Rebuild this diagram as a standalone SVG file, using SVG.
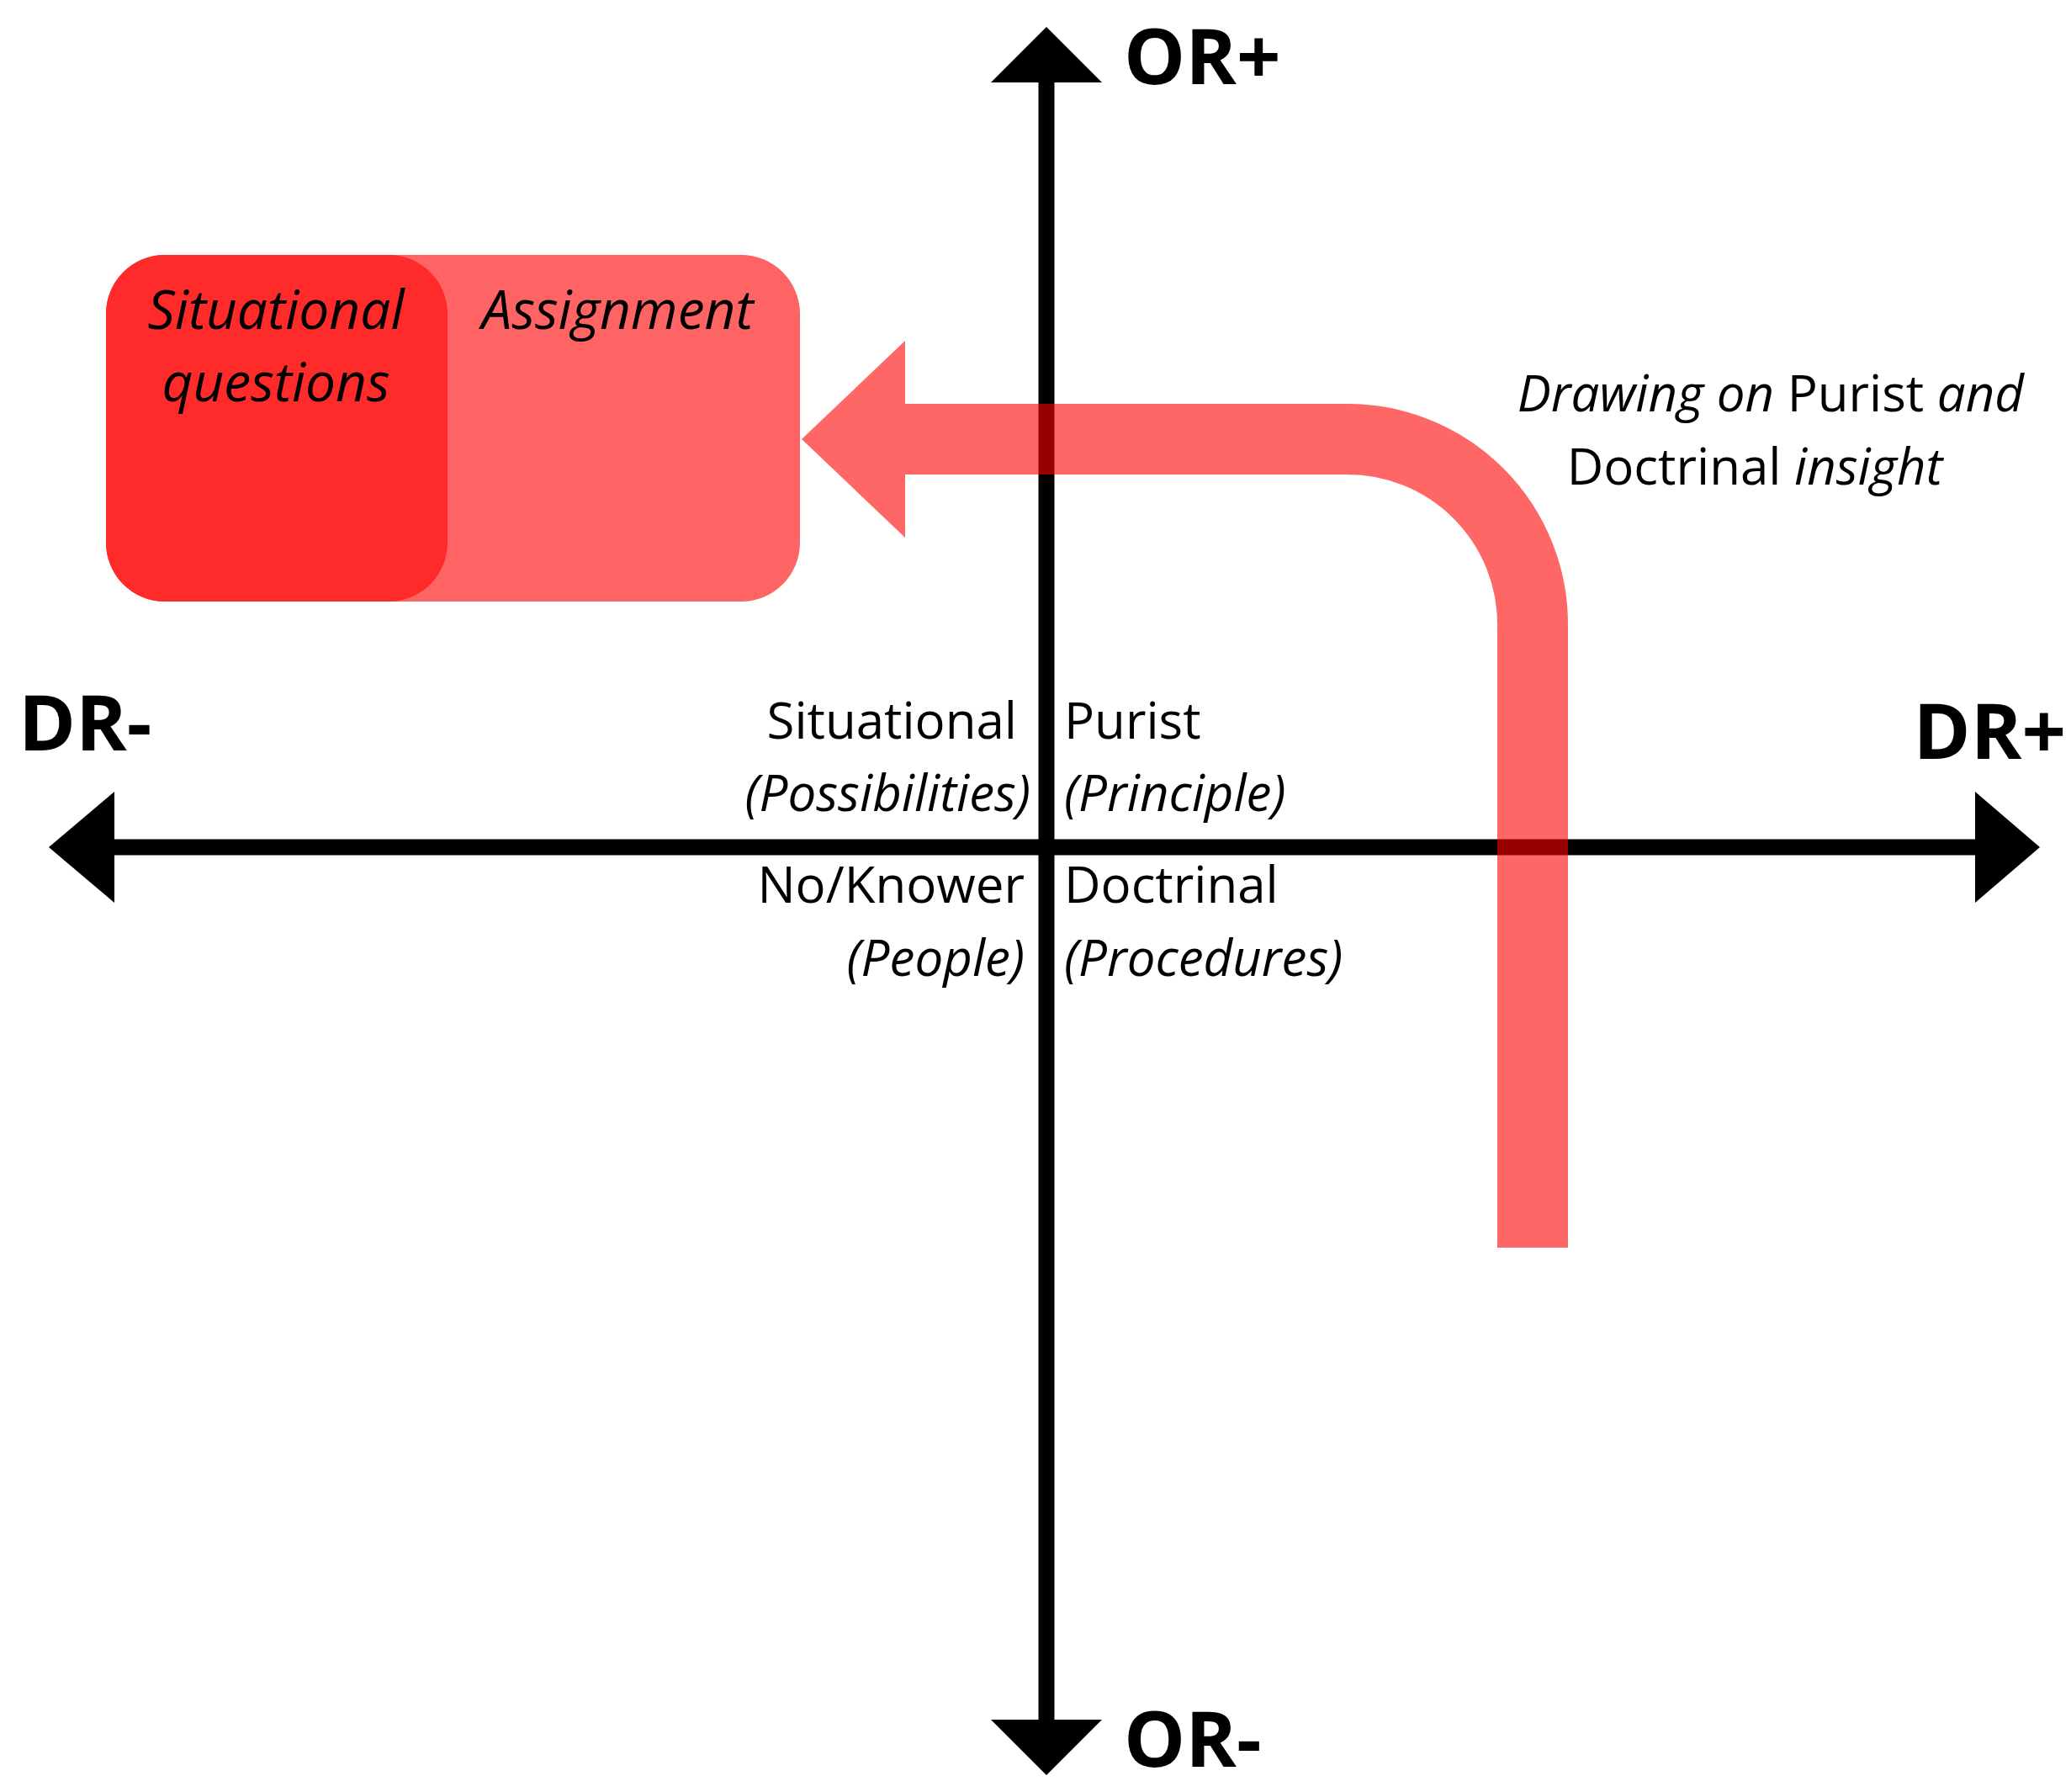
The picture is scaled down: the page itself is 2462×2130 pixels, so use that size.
<svg xmlns="http://www.w3.org/2000/svg" width="2462" height="2130" viewBox="0 0 2462 2130">
<style>
.t{font-family:"Open Sans","Liberation Sans",sans-serif;font-size:60px;fill:#000}
.bx{font-size:64px}
.i{font-style:italic}
.b{font-family:"Open Sans","Liberation Sans",sans-serif;font-weight:bold;font-size:92px;fill:#000}
</style>
<rect width="2462" height="2130" fill="#fff"/>
<g id="box">
<rect x="126" y="303" width="825" height="412" rx="70" fill="#FF6464"/>
<path d="M196,303 H462 A70,70 0 0 1 532,373 V645 A70,70 0 0 1 462,715 H196 A70,70 0 0 1 126,645 V373 A70,70 0 0 1 196,303 Z" fill="#FF2A2A"/>
<text class="t bx i" x="328" y="391" text-anchor="middle">Situational</text>
<text class="t bx i" x="328" y="477" text-anchor="middle">questions</text>
<text class="t bx i" x="734" y="391" text-anchor="middle">Assignment</text>
</g>
<g id="axes">
<line x1="1244" y1="90" x2="1244" y2="2050" stroke="#000" stroke-width="19"/>
<polygon points="1244,32 1310,98 1178,98" fill="#000"/>
<polygon points="1244,2110 1310,2044 1178,2044" fill="#000"/>
<line x1="130" y1="1007" x2="2355" y2="1007" stroke="#000" stroke-width="19"/>
<polygon points="58,1007 136,941 136,1073" fill="#000"/>
<polygon points="2425,1007 2348,941 2348,1073" fill="#000"/>
<text class="b" x="1336" y="100">OR+</text>
<text class="b" x="1336" y="2100">OR-</text>
<text class="b" x="22" y="892">DR-</text>
<text class="b" x="2456" y="902" text-anchor="end">DR+</text>
</g>
<g id="connectors">
<path d="M1076,522 H1602 A220,220 0 0 1 1822,742 V1483" fill="none" stroke="#FF0000" stroke-opacity="0.6" stroke-width="84"/>
<polygon points="953,522 1076,405 1076,639" fill="#FF0000" fill-opacity="0.6"/>
</g>
<g id="labels">
<text class="t" x="2406" y="489" text-anchor="end"><tspan class="i">Drawing on</tspan> Purist <tspan class="i">and</tspan></text>
<text class="t" x="2086" y="576" text-anchor="middle">Doctrinal <tspan class="i">insight</tspan></text>
<text class="t" x="1209" y="878" text-anchor="end">Situational</text>
<text class="t i" x="1225" y="964" text-anchor="end">(Possibilities)</text>
<text class="t" x="1265" y="878">Purist</text>
<text class="t i" x="1265" y="964">(Principle)</text>
<text class="t" x="1218" y="1073" text-anchor="end">No/Knower</text>
<text class="t i" x="1218" y="1160" text-anchor="end">(People)</text>
<text class="t" x="1265" y="1073">Doctrinal</text>
<text class="t i" x="1265" y="1160">(Procedures)</text>
</g>
</svg>
